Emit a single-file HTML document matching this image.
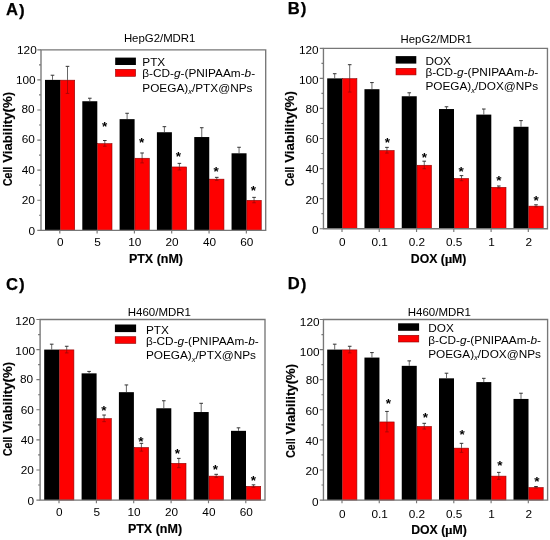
<!DOCTYPE html>
<html lang="en">
<head>
<meta charset="utf-8">
<title>Cell viability</title>
<style>
html,body{margin:0;padding:0;background:#fff;}
svg{display:block;font-family:"Liberation Sans", Arial, sans-serif;fill:#000;}
</style>
</head>
<body>
<svg width="550" height="540" viewBox="0 0 550 540">
<rect width="550" height="540" fill="#fff"/>
<g>
<text x="6" y="15.2" font-size="16.6" font-weight="bold" stroke="#000" stroke-width="0.25">A<tspan dx="1" dy="0.3" font-size="17">)</tspan></text>
<text x="123.9" y="41.9" font-size="11.4" textLength="71.5" lengthAdjust="spacingAndGlyphs">HepG2/MDR1</text>
<rect x="45" y="79.88" width="15" height="150.42" fill="#000"/>
<rect x="60.3" y="80.18" width="14.4" height="150.12" fill="#fe0000" stroke="#8c0000" stroke-width="0.6"/>
<rect x="82.3" y="101.24" width="15" height="129.06" fill="#000"/>
<rect x="97.6" y="143.66" width="14.4" height="86.64" fill="#fe0000" stroke="#8c0000" stroke-width="0.6"/>
<rect x="119.6" y="119.14" width="15" height="111.16" fill="#000"/>
<rect x="134.9" y="158.25" width="14.4" height="72.05" fill="#fe0000" stroke="#8c0000" stroke-width="0.6"/>
<rect x="156.9" y="132.23" width="15" height="98.07" fill="#000"/>
<rect x="172.2" y="166.97" width="14.4" height="63.33" fill="#fe0000" stroke="#8c0000" stroke-width="0.6"/>
<rect x="194.25" y="137.04" width="15" height="93.26" fill="#000"/>
<rect x="209.55" y="179.16" width="14.4" height="51.14" fill="#fe0000" stroke="#8c0000" stroke-width="0.6"/>
<rect x="231.55" y="153.29" width="15" height="77.01" fill="#000"/>
<rect x="246.85" y="200.37" width="14.4" height="29.93" fill="#fe0000" stroke="#8c0000" stroke-width="0.6"/>
<path d="M52.5 79.88V75.22" stroke="#404040" stroke-width="0.8" fill="none"/>
<path d="M50.7 75.22H54.3" stroke="#333" stroke-width="1" fill="none"/>
<path d="M67.5 79.88V93.42M65.7 93.42H69.3" stroke="#9c0606" stroke-width="0.8" fill="none"/>
<path d="M67.5 79.88V66.35" stroke="#404040" stroke-width="0.8" fill="none"/>
<path d="M65.7 66.35H69.3" stroke="#333" stroke-width="1" fill="none"/>
<path d="M89.8 101.24V98.23" stroke="#404040" stroke-width="0.8" fill="none"/>
<path d="M88 98.23H91.6" stroke="#333" stroke-width="1" fill="none"/>
<path d="M104.8 143.36V146.22M103 146.22H106.6" stroke="#9c0606" stroke-width="0.8" fill="none"/>
<path d="M104.8 143.36V140.5" stroke="#404040" stroke-width="0.8" fill="none"/>
<path d="M103 140.5H106.6" stroke="#333" stroke-width="1" fill="none"/>
<path d="M127.1 119.14V113.28" stroke="#404040" stroke-width="0.8" fill="none"/>
<path d="M125.3 113.28H128.9" stroke="#333" stroke-width="1" fill="none"/>
<path d="M142.1 157.95V162.91M140.3 162.91H143.9" stroke="#9c0606" stroke-width="0.8" fill="none"/>
<path d="M142.1 157.95V152.99" stroke="#404040" stroke-width="0.8" fill="none"/>
<path d="M140.3 152.99H143.9" stroke="#333" stroke-width="1" fill="none"/>
<path d="M164.4 132.23V126.66" stroke="#404040" stroke-width="0.8" fill="none"/>
<path d="M162.6 126.66H166.2" stroke="#333" stroke-width="1" fill="none"/>
<path d="M179.4 166.67V169.98M177.6 169.98H181.2" stroke="#9c0606" stroke-width="0.8" fill="none"/>
<path d="M179.4 166.67V163.36" stroke="#404040" stroke-width="0.8" fill="none"/>
<path d="M177.6 163.36H181.2" stroke="#333" stroke-width="1" fill="none"/>
<path d="M201.75 137.04V127.72" stroke="#404040" stroke-width="0.8" fill="none"/>
<path d="M199.95 127.72H203.55" stroke="#333" stroke-width="1" fill="none"/>
<path d="M216.75 178.86V180.36M214.95 180.36H218.55" stroke="#9c0606" stroke-width="0.8" fill="none"/>
<path d="M216.75 178.86V177.35" stroke="#404040" stroke-width="0.8" fill="none"/>
<path d="M214.95 177.35H218.55" stroke="#333" stroke-width="1" fill="none"/>
<path d="M239.05 153.29V147.27" stroke="#404040" stroke-width="0.8" fill="none"/>
<path d="M237.25 147.27H240.85" stroke="#333" stroke-width="1" fill="none"/>
<path d="M254.05 200.07V202.77M252.25 202.77H255.85" stroke="#9c0606" stroke-width="0.8" fill="none"/>
<path d="M254.05 200.07V197.36" stroke="#404040" stroke-width="0.8" fill="none"/>
<path d="M252.25 197.36H255.85" stroke="#333" stroke-width="1" fill="none"/>
<text x="104.7" y="130.9" font-size="13.5" font-weight="bold" text-anchor="middle">*</text>
<text x="141.7" y="146.7" font-size="13.5" font-weight="bold" text-anchor="middle">*</text>
<text x="178.4" y="160.6" font-size="13.5" font-weight="bold" text-anchor="middle">*</text>
<text x="216.2" y="176" font-size="13.5" font-weight="bold" text-anchor="middle">*</text>
<text x="253.3" y="195.1" font-size="13.5" font-weight="bold" text-anchor="middle">*</text>
<path d="M41 230.3V49.8H265.7V230.3Z" stroke="#777777" stroke-width="1.35" fill="none"/>
<path d="M41 230.3h-3.7M41 215.26h-2M41 200.22h-3.7M41 185.18h-2M41 170.13h-3.7M41 155.09h-2M41 140.05h-3.7M41 125.01h-2M41 109.97h-3.7M41 94.93h-2M41 79.88h-3.7M41 64.84h-2M41 49.8h-3.7M59.8 230.3v3.2M97.1 230.3v3.2M134.4 230.3v3.2M171.7 230.3v3.2M209.05 230.3v3.2M246.35 230.3v3.2" stroke="#777777" stroke-width="1.15" fill="none"/>
<text x="34.95" y="234.75" font-size="11.8" text-anchor="end">0</text>
<text x="34.95" y="204.05" font-size="11.8" text-anchor="end">20</text>
<text x="34.95" y="174.05" font-size="11.8" text-anchor="end">40</text>
<text x="34.95" y="142.55" font-size="11.8" text-anchor="end">60</text>
<text x="34.55" y="112.55" font-size="11.8" text-anchor="end">80</text>
<text x="35.65" y="84.35" font-size="11.8" text-anchor="end">100</text>
<text x="36.75" y="54.45" font-size="11.8" text-anchor="end">120</text>
<text x="60.2" y="246.3" font-size="11.8" text-anchor="middle">0</text>
<text x="97.5" y="246.3" font-size="11.8" text-anchor="middle">5</text>
<text x="134.8" y="246.3" font-size="11.8" text-anchor="middle">10</text>
<text x="172.1" y="246.3" font-size="11.8" text-anchor="middle">20</text>
<text x="209.45" y="246.3" font-size="11.8" text-anchor="middle">40</text>
<text x="246.75" y="246.3" font-size="11.8" text-anchor="middle">60</text>
<text x="128.9" y="262.8" font-size="12.2" font-weight="bold" textLength="54.09" lengthAdjust="spacingAndGlyphs" stroke="#000" stroke-width="0.15">PTX (nM)</text>
<text transform="translate(11.5 186.1) rotate(-90)" font-size="12" font-weight="bold" textLength="19.4" lengthAdjust="spacingAndGlyphs" stroke="#000" stroke-width="0.15">Cell</text>
<text transform="translate(11.5 162.8) rotate(-90)" font-size="12" font-weight="bold" textLength="70.89" lengthAdjust="spacingAndGlyphs" stroke="#000" stroke-width="0.15">Viability(%)</text>
<rect x="115.2" y="57.6" width="20.7" height="7.4" fill="#000"/>
<rect x="115.5" y="69.3" width="20.1" height="7" fill="#fe0000" stroke="#8c0000" stroke-width="0.6"/>
<text x="142.3" y="65.8" font-size="11.8">PTX</text>
<text x="142.3" y="77.2" font-size="11.8">β-CD-<tspan font-style="italic">g</tspan>-(PNIPAAm-<tspan font-style="italic">b</tspan>-</text>
<text x="142.3" y="91.6" font-size="11.8">POEGA)<tspan font-style="italic" font-size="7.5" dy="2.2">x</tspan><tspan dy="-2.2">/PTX@NPs</tspan></text>
</g>
<g>
<text x="287.7" y="14" font-size="16.6" font-weight="bold" stroke="#000" stroke-width="0.25">B<tspan dx="1" dy="0.3" font-size="17">)</tspan></text>
<text x="400.6" y="43" font-size="11.4" textLength="71.2" lengthAdjust="spacingAndGlyphs">HepG2/MDR1</text>
<rect x="327.2" y="78.37" width="15" height="150.33" fill="#000"/>
<rect x="342.5" y="78.67" width="14.4" height="150.03" fill="#fe0000" stroke="#8c0000" stroke-width="0.6"/>
<rect x="364.45" y="89.19" width="15" height="139.51" fill="#000"/>
<rect x="379.75" y="150.53" width="14.4" height="78.17" fill="#fe0000" stroke="#8c0000" stroke-width="0.6"/>
<rect x="401.75" y="96.26" width="15" height="132.44" fill="#000"/>
<rect x="417.05" y="165.26" width="14.4" height="63.44" fill="#fe0000" stroke="#8c0000" stroke-width="0.6"/>
<rect x="439" y="109.03" width="15" height="119.67" fill="#000"/>
<rect x="454.3" y="178.49" width="14.4" height="50.21" fill="#fe0000" stroke="#8c0000" stroke-width="0.6"/>
<rect x="476.3" y="114.6" width="15" height="114.1" fill="#000"/>
<rect x="491.6" y="187.36" width="14.4" height="41.34" fill="#fe0000" stroke="#8c0000" stroke-width="0.6"/>
<rect x="513.5" y="126.77" width="15" height="101.93" fill="#000"/>
<rect x="528.8" y="206.15" width="14.4" height="22.55" fill="#fe0000" stroke="#8c0000" stroke-width="0.6"/>
<path d="M334.7 78.37V73.71" stroke="#404040" stroke-width="0.8" fill="none"/>
<path d="M332.9 73.71H336.5" stroke="#333" stroke-width="1" fill="none"/>
<path d="M349.7 78.37V92.05M347.9 92.05H351.5" stroke="#9c0606" stroke-width="0.8" fill="none"/>
<path d="M349.7 78.37V64.69" stroke="#404040" stroke-width="0.8" fill="none"/>
<path d="M347.9 64.69H351.5" stroke="#333" stroke-width="1" fill="none"/>
<path d="M371.95 89.19V82.58" stroke="#404040" stroke-width="0.8" fill="none"/>
<path d="M370.15 82.58H373.75" stroke="#333" stroke-width="1" fill="none"/>
<path d="M386.95 150.23V153.08M385.15 153.08H388.75" stroke="#9c0606" stroke-width="0.8" fill="none"/>
<path d="M386.95 150.23V147.37" stroke="#404040" stroke-width="0.8" fill="none"/>
<path d="M385.15 147.37H388.75" stroke="#333" stroke-width="1" fill="none"/>
<path d="M409.25 96.26V92.8" stroke="#404040" stroke-width="0.8" fill="none"/>
<path d="M407.45 92.8H411.05" stroke="#333" stroke-width="1" fill="none"/>
<path d="M424.25 164.96V168.72M422.45 168.72H426.05" stroke="#9c0606" stroke-width="0.8" fill="none"/>
<path d="M424.25 164.96V161.2" stroke="#404040" stroke-width="0.8" fill="none"/>
<path d="M422.45 161.2H426.05" stroke="#333" stroke-width="1" fill="none"/>
<path d="M446.5 109.03V106.78" stroke="#404040" stroke-width="0.8" fill="none"/>
<path d="M444.7 106.78H448.3" stroke="#333" stroke-width="1" fill="none"/>
<path d="M461.5 178.19V180.74M459.7 180.74H463.3" stroke="#9c0606" stroke-width="0.8" fill="none"/>
<path d="M461.5 178.19V175.63" stroke="#404040" stroke-width="0.8" fill="none"/>
<path d="M459.7 175.63H463.3" stroke="#333" stroke-width="1" fill="none"/>
<path d="M483.8 114.6V109.03" stroke="#404040" stroke-width="0.8" fill="none"/>
<path d="M482 109.03H485.6" stroke="#333" stroke-width="1" fill="none"/>
<path d="M498.8 187.06V188.11M497 188.11H500.6" stroke="#9c0606" stroke-width="0.8" fill="none"/>
<path d="M498.8 187.06V186.01" stroke="#404040" stroke-width="0.8" fill="none"/>
<path d="M497 186.01H500.6" stroke="#333" stroke-width="1" fill="none"/>
<path d="M521 126.77V120.61" stroke="#404040" stroke-width="0.8" fill="none"/>
<path d="M519.2 120.61H522.8" stroke="#333" stroke-width="1" fill="none"/>
<path d="M536 205.85V206.9M534.2 206.9H537.8" stroke="#9c0606" stroke-width="0.8" fill="none"/>
<path d="M536 205.85V204.8" stroke="#404040" stroke-width="0.8" fill="none"/>
<path d="M534.2 204.8H537.8" stroke="#333" stroke-width="1" fill="none"/>
<text x="387.5" y="146.9" font-size="13.5" font-weight="bold" text-anchor="middle">*</text>
<text x="424.5" y="162.2" font-size="13.5" font-weight="bold" text-anchor="middle">*</text>
<text x="461.2" y="175.8" font-size="13.5" font-weight="bold" text-anchor="middle">*</text>
<text x="498.9" y="184.8" font-size="13.5" font-weight="bold" text-anchor="middle">*</text>
<text x="536.2" y="205.3" font-size="13.5" font-weight="bold" text-anchor="middle">*</text>
<path d="M323.45 228.7V48.3H547.45V228.7Z" stroke="#777777" stroke-width="1.35" fill="none"/>
<path d="M323.45 228.7h-3.7M323.45 213.67h-2M323.45 198.63h-3.7M323.45 183.6h-2M323.45 168.57h-3.7M323.45 153.53h-2M323.45 138.5h-3.7M323.45 123.47h-2M323.45 108.43h-3.7M323.45 93.4h-2M323.45 78.37h-3.7M323.45 63.33h-2M323.45 48.3h-3.7M342 228.7v3.2M379.25 228.7v3.2M416.55 228.7v3.2M453.8 228.7v3.2M491.1 228.7v3.2M528.3 228.7v3.2" stroke="#777777" stroke-width="1.15" fill="none"/>
<text x="318.65" y="234.05" font-size="11.8" text-anchor="end">0</text>
<text x="318.65" y="203.55" font-size="11.8" text-anchor="end">20</text>
<text x="318.65" y="173.45" font-size="11.8" text-anchor="end">40</text>
<text x="318.65" y="142.85" font-size="11.8" text-anchor="end">60</text>
<text x="318.65" y="112.55" font-size="11.8" text-anchor="end">80</text>
<text x="318.65" y="84.35" font-size="11.8" text-anchor="end">100</text>
<text x="318.65" y="53.85" font-size="11.8" text-anchor="end">120</text>
<text x="342.4" y="246.1" font-size="11.8" text-anchor="middle">0</text>
<text x="379.65" y="246.1" font-size="11.8" text-anchor="middle">0.1</text>
<text x="416.95" y="246.1" font-size="11.8" text-anchor="middle">0.2</text>
<text x="454.2" y="246.1" font-size="11.8" text-anchor="middle">0.5</text>
<text x="491.5" y="246.1" font-size="11.8" text-anchor="middle">1</text>
<text x="528.7" y="246.1" font-size="11.8" text-anchor="middle">2</text>
<text x="410.8" y="262.6" font-size="12.2" font-weight="bold" textLength="55.6" lengthAdjust="spacingAndGlyphs" stroke="#000" stroke-width="0.15">DOX (<tspan font-family="Liberation Serif, serif" font-size="12.5">μ</tspan>M)</text>
<text transform="translate(294.3 186.1) rotate(-90)" font-size="12" font-weight="bold" textLength="19.4" lengthAdjust="spacingAndGlyphs" stroke="#000" stroke-width="0.15">Cell</text>
<text transform="translate(294.3 162.8) rotate(-90)" font-size="12" font-weight="bold" textLength="71.69" lengthAdjust="spacingAndGlyphs" stroke="#000" stroke-width="0.15">Viability(%)</text>
<rect x="395.7" y="56.1" width="20.6" height="7.5" fill="#000"/>
<rect x="396" y="68.3" width="20" height="6.6" fill="#fe0000" stroke="#8c0000" stroke-width="0.6"/>
<text x="425.4" y="64.8" font-size="11.8">DOX</text>
<text x="425.4" y="75.9" font-size="11.8">β-CD-<tspan font-style="italic">g</tspan>-(PNIPAAm-<tspan font-style="italic">b</tspan>-</text>
<text x="425.4" y="90.3" font-size="11.8">POEGA)<tspan font-style="italic" font-size="7.5" dy="2.2">x</tspan><tspan dy="-2.2">/DOX@NPs</tspan></text>
</g>
<g>
<text x="6" y="289.5" font-size="16.6" font-weight="bold" stroke="#000" stroke-width="0.25">C<tspan dx="1" dy="0.3" font-size="17">)</tspan></text>
<text x="127.7" y="316.4" font-size="11.4" textLength="63.3" lengthAdjust="spacingAndGlyphs">H460/MDR1</text>
<rect x="44.2" y="349.59" width="15" height="150.46" fill="#000"/>
<rect x="59.5" y="349.89" width="14.4" height="150.16" fill="#fe0000" stroke="#8c0000" stroke-width="0.6"/>
<rect x="81.6" y="373.36" width="15" height="126.69" fill="#000"/>
<rect x="96.9" y="418.65" width="14.4" height="81.4" fill="#fe0000" stroke="#8c0000" stroke-width="0.6"/>
<rect x="118.9" y="392.17" width="15" height="107.88" fill="#000"/>
<rect x="134.2" y="447.54" width="14.4" height="52.51" fill="#fe0000" stroke="#8c0000" stroke-width="0.6"/>
<rect x="156.3" y="408.27" width="15" height="91.78" fill="#000"/>
<rect x="171.6" y="463.34" width="14.4" height="36.71" fill="#fe0000" stroke="#8c0000" stroke-width="0.6"/>
<rect x="193.7" y="412.03" width="15" height="88.02" fill="#000"/>
<rect x="209" y="476.13" width="14.4" height="23.92" fill="#fe0000" stroke="#8c0000" stroke-width="0.6"/>
<rect x="231" y="430.84" width="15" height="69.21" fill="#000"/>
<rect x="246.3" y="486.36" width="14.4" height="13.69" fill="#fe0000" stroke="#8c0000" stroke-width="0.6"/>
<path d="M51.7 349.59V344.18" stroke="#404040" stroke-width="0.8" fill="none"/>
<path d="M49.9 344.18H53.5" stroke="#333" stroke-width="1" fill="none"/>
<path d="M66.7 349.59V352.9M64.9 352.9H68.5" stroke="#9c0606" stroke-width="0.8" fill="none"/>
<path d="M66.7 349.59V346.28" stroke="#404040" stroke-width="0.8" fill="none"/>
<path d="M64.9 346.28H68.5" stroke="#333" stroke-width="1" fill="none"/>
<path d="M89.1 373.36V371.41" stroke="#404040" stroke-width="0.8" fill="none"/>
<path d="M87.3 371.41H90.9" stroke="#333" stroke-width="1" fill="none"/>
<path d="M104.1 418.35V421.66M102.3 421.66H105.9" stroke="#9c0606" stroke-width="0.8" fill="none"/>
<path d="M104.1 418.35V415.04" stroke="#404040" stroke-width="0.8" fill="none"/>
<path d="M102.3 415.04H105.9" stroke="#333" stroke-width="1" fill="none"/>
<path d="M126.4 392.17V384.95" stroke="#404040" stroke-width="0.8" fill="none"/>
<path d="M124.6 384.95H128.2" stroke="#333" stroke-width="1" fill="none"/>
<path d="M141.4 447.24V451.15M139.6 451.15H143.2" stroke="#9c0606" stroke-width="0.8" fill="none"/>
<path d="M141.4 447.24V443.33" stroke="#404040" stroke-width="0.8" fill="none"/>
<path d="M139.6 443.33H143.2" stroke="#333" stroke-width="1" fill="none"/>
<path d="M163.8 408.27V400.75" stroke="#404040" stroke-width="0.8" fill="none"/>
<path d="M162 400.75H165.6" stroke="#333" stroke-width="1" fill="none"/>
<path d="M178.8 463.04V467.7M177 467.7H180.6" stroke="#9c0606" stroke-width="0.8" fill="none"/>
<path d="M178.8 463.04V458.37" stroke="#404040" stroke-width="0.8" fill="none"/>
<path d="M177 458.37H180.6" stroke="#333" stroke-width="1" fill="none"/>
<path d="M201.2 412.03V403.31" stroke="#404040" stroke-width="0.8" fill="none"/>
<path d="M199.4 403.31H203" stroke="#333" stroke-width="1" fill="none"/>
<path d="M216.2 475.83V477.33M214.4 477.33H218" stroke="#9c0606" stroke-width="0.8" fill="none"/>
<path d="M216.2 475.83V474.32" stroke="#404040" stroke-width="0.8" fill="none"/>
<path d="M214.4 474.32H218" stroke="#333" stroke-width="1" fill="none"/>
<path d="M238.5 430.84V427.83" stroke="#404040" stroke-width="0.8" fill="none"/>
<path d="M236.7 427.83H240.3" stroke="#333" stroke-width="1" fill="none"/>
<path d="M253.5 486.06V487.26M251.7 487.26H255.3" stroke="#9c0606" stroke-width="0.8" fill="none"/>
<path d="M253.5 486.06V484.85" stroke="#404040" stroke-width="0.8" fill="none"/>
<path d="M251.7 484.85H255.3" stroke="#333" stroke-width="1" fill="none"/>
<text x="103.8" y="414.7" font-size="13.5" font-weight="bold" text-anchor="middle">*</text>
<text x="140.8" y="445.9" font-size="13.5" font-weight="bold" text-anchor="middle">*</text>
<text x="177.5" y="458.4" font-size="13.5" font-weight="bold" text-anchor="middle">*</text>
<text x="215.5" y="473.7" font-size="13.5" font-weight="bold" text-anchor="middle">*</text>
<text x="253.3" y="485" font-size="13.5" font-weight="bold" text-anchor="middle">*</text>
<path d="M40.1 500.05V319.5H265V500.05Z" stroke="#777777" stroke-width="1.35" fill="none"/>
<path d="M40.1 500.05h-3.7M40.1 485h-2M40.1 469.96h-3.7M40.1 454.91h-2M40.1 439.87h-3.7M40.1 424.82h-2M40.1 409.77h-3.7M40.1 394.73h-2M40.1 379.68h-3.7M40.1 364.64h-2M40.1 349.59h-3.7M40.1 334.55h-2M40.1 319.5h-3.7M59 500.05v3.2M96.4 500.05v3.2M133.7 500.05v3.2M171.1 500.05v3.2M208.5 500.05v3.2M245.8 500.05v3.2" stroke="#777777" stroke-width="1.15" fill="none"/>
<text x="33.95" y="504.65" font-size="11.8" text-anchor="end">0</text>
<text x="33.95" y="474.15" font-size="11.8" text-anchor="end">20</text>
<text x="33.95" y="443.95" font-size="11.8" text-anchor="end">40</text>
<text x="33.95" y="413.55" font-size="11.8" text-anchor="end">60</text>
<text x="33.15" y="382.55" font-size="11.8" text-anchor="end">80</text>
<text x="35.05" y="354.75" font-size="11.8" text-anchor="end">100</text>
<text x="35.05" y="324.85" font-size="11.8" text-anchor="end">120</text>
<text x="59.4" y="516.2" font-size="11.8" text-anchor="middle">0</text>
<text x="96.8" y="516.2" font-size="11.8" text-anchor="middle">5</text>
<text x="134.1" y="516.2" font-size="11.8" text-anchor="middle">10</text>
<text x="171.5" y="516.2" font-size="11.8" text-anchor="middle">20</text>
<text x="208.9" y="516.2" font-size="11.8" text-anchor="middle">40</text>
<text x="246.2" y="516.2" font-size="11.8" text-anchor="middle">60</text>
<text x="127.9" y="532.6" font-size="12.2" font-weight="bold" textLength="54.19" lengthAdjust="spacingAndGlyphs" stroke="#000" stroke-width="0.15">PTX (nM)</text>
<text transform="translate(12.4 456.1) rotate(-90)" font-size="12" font-weight="bold" textLength="19.4" lengthAdjust="spacingAndGlyphs" stroke="#000" stroke-width="0.15">Cell</text>
<text transform="translate(12.4 432.8) rotate(-90)" font-size="12" font-weight="bold" textLength="70.89" lengthAdjust="spacingAndGlyphs" stroke="#000" stroke-width="0.15">Viability(%)</text>
<rect x="114.9" y="324.5" width="21.2" height="7.6" fill="#000"/>
<rect x="115.2" y="336.7" width="20.6" height="6.7" fill="#fe0000" stroke="#8c0000" stroke-width="0.6"/>
<text x="145.9" y="333.7" font-size="11.8">PTX</text>
<text x="145.9" y="345.3" font-size="11.8">β-CD-<tspan font-style="italic">g</tspan>-(PNIPAAm-<tspan font-style="italic">b</tspan>-</text>
<text x="145.9" y="359.4" font-size="11.8">POEGA)<tspan font-style="italic" font-size="7.5" dy="2.2">x</tspan><tspan dy="-2.2">/PTX@NPs</tspan></text>
</g>
<g>
<text x="287.7" y="289.4" font-size="16.6" font-weight="bold" stroke="#000" stroke-width="0.25">D<tspan dx="1" dy="0.3" font-size="17">)</tspan></text>
<text x="407.7" y="316.4" font-size="11.4" textLength="63.3" lengthAdjust="spacingAndGlyphs">H460/MDR1</text>
<rect x="327.2" y="349.59" width="15" height="150.46" fill="#000"/>
<rect x="342.5" y="349.89" width="14.4" height="150.16" fill="#fe0000" stroke="#8c0000" stroke-width="0.6"/>
<rect x="364.45" y="357.57" width="15" height="142.48" fill="#000"/>
<rect x="379.75" y="421.96" width="14.4" height="78.09" fill="#fe0000" stroke="#8c0000" stroke-width="0.6"/>
<rect x="401.75" y="365.84" width="15" height="134.21" fill="#000"/>
<rect x="417.05" y="426.47" width="14.4" height="73.58" fill="#fe0000" stroke="#8c0000" stroke-width="0.6"/>
<rect x="439" y="378.33" width="15" height="121.72" fill="#000"/>
<rect x="454.3" y="448.14" width="14.4" height="51.91" fill="#fe0000" stroke="#8c0000" stroke-width="0.6"/>
<rect x="476.3" y="382.09" width="15" height="117.96" fill="#000"/>
<rect x="491.6" y="476.13" width="14.4" height="23.92" fill="#fe0000" stroke="#8c0000" stroke-width="0.6"/>
<rect x="513.5" y="398.94" width="15" height="101.11" fill="#000"/>
<rect x="528.8" y="487.56" width="14.4" height="12.49" fill="#fe0000" stroke="#8c0000" stroke-width="0.6"/>
<path d="M334.7 349.59V344.18" stroke="#404040" stroke-width="0.8" fill="none"/>
<path d="M332.9 344.18H336.5" stroke="#333" stroke-width="1" fill="none"/>
<path d="M349.7 349.59V352.9M347.9 352.9H351.5" stroke="#9c0606" stroke-width="0.8" fill="none"/>
<path d="M349.7 349.59V346.28" stroke="#404040" stroke-width="0.8" fill="none"/>
<path d="M347.9 346.28H351.5" stroke="#333" stroke-width="1" fill="none"/>
<path d="M371.95 357.57V352.6" stroke="#404040" stroke-width="0.8" fill="none"/>
<path d="M370.15 352.6H373.75" stroke="#333" stroke-width="1" fill="none"/>
<path d="M386.95 421.66V431.89M385.15 431.89H388.75" stroke="#9c0606" stroke-width="0.8" fill="none"/>
<path d="M386.95 421.66V411.43" stroke="#404040" stroke-width="0.8" fill="none"/>
<path d="M385.15 411.43H388.75" stroke="#333" stroke-width="1" fill="none"/>
<path d="M409.25 365.84V360.88" stroke="#404040" stroke-width="0.8" fill="none"/>
<path d="M407.45 360.88H411.05" stroke="#333" stroke-width="1" fill="none"/>
<path d="M424.25 426.17V429.03M422.45 429.03H426.05" stroke="#9c0606" stroke-width="0.8" fill="none"/>
<path d="M424.25 426.17V423.32" stroke="#404040" stroke-width="0.8" fill="none"/>
<path d="M422.45 423.32H426.05" stroke="#333" stroke-width="1" fill="none"/>
<path d="M446.5 378.33V373.21" stroke="#404040" stroke-width="0.8" fill="none"/>
<path d="M444.7 373.21H448.3" stroke="#333" stroke-width="1" fill="none"/>
<path d="M461.5 447.84V452.35M459.7 452.35H463.3" stroke="#9c0606" stroke-width="0.8" fill="none"/>
<path d="M461.5 447.84V443.33" stroke="#404040" stroke-width="0.8" fill="none"/>
<path d="M459.7 443.33H463.3" stroke="#333" stroke-width="1" fill="none"/>
<path d="M483.8 382.09V378.33" stroke="#404040" stroke-width="0.8" fill="none"/>
<path d="M482 378.33H485.6" stroke="#333" stroke-width="1" fill="none"/>
<path d="M498.8 475.83V479.29M497 479.29H500.6" stroke="#9c0606" stroke-width="0.8" fill="none"/>
<path d="M498.8 475.83V472.37" stroke="#404040" stroke-width="0.8" fill="none"/>
<path d="M497 472.37H500.6" stroke="#333" stroke-width="1" fill="none"/>
<path d="M521 398.94V393.22" stroke="#404040" stroke-width="0.8" fill="none"/>
<path d="M519.2 393.22H522.8" stroke="#333" stroke-width="1" fill="none"/>
<path d="M536 487.26V488.01M534.2 488.01H537.8" stroke="#9c0606" stroke-width="0.8" fill="none"/>
<path d="M536 487.26V486.51" stroke="#404040" stroke-width="0.8" fill="none"/>
<path d="M534.2 486.51H537.8" stroke="#333" stroke-width="1" fill="none"/>
<text x="388.3" y="407.9" font-size="13.5" font-weight="bold" text-anchor="middle">*</text>
<text x="425.3" y="421.7" font-size="13.5" font-weight="bold" text-anchor="middle">*</text>
<text x="462.1" y="439.2" font-size="13.5" font-weight="bold" text-anchor="middle">*</text>
<text x="499.8" y="469.8" font-size="13.5" font-weight="bold" text-anchor="middle">*</text>
<text x="536.8" y="485.6" font-size="13.5" font-weight="bold" text-anchor="middle">*</text>
<path d="M323.45 500.05V319.5H547.6V500.05Z" stroke="#777777" stroke-width="1.35" fill="none"/>
<path d="M323.45 500.05h-3.7M323.45 485h-2M323.45 469.96h-3.7M323.45 454.91h-2M323.45 439.87h-3.7M323.45 424.82h-2M323.45 409.77h-3.7M323.45 394.73h-2M323.45 379.68h-3.7M323.45 364.64h-2M323.45 349.59h-3.7M323.45 334.55h-2M323.45 319.5h-3.7M342 500.05v3.2M379.25 500.05v3.2M416.55 500.05v3.2M453.8 500.05v3.2M491.1 500.05v3.2M528.3 500.05v3.2" stroke="#777777" stroke-width="1.15" fill="none"/>
<text x="318.65" y="505.65" font-size="11.8" text-anchor="end">0</text>
<text x="318.65" y="475.25" font-size="11.8" text-anchor="end">20</text>
<text x="318.65" y="445.05" font-size="11.8" text-anchor="end">40</text>
<text x="318.65" y="415.05" font-size="11.8" text-anchor="end">60</text>
<text x="318.85" y="384.25" font-size="11.8" text-anchor="end">80</text>
<text x="319.55" y="355.95" font-size="11.8" text-anchor="end">100</text>
<text x="319.55" y="326.25" font-size="11.8" text-anchor="end">120</text>
<text x="342.4" y="517.6" font-size="11.8" text-anchor="middle">0</text>
<text x="379.65" y="517.6" font-size="11.8" text-anchor="middle">0.1</text>
<text x="416.95" y="517.6" font-size="11.8" text-anchor="middle">0.2</text>
<text x="454.2" y="517.6" font-size="11.8" text-anchor="middle">0.5</text>
<text x="491.5" y="517.6" font-size="11.8" text-anchor="middle">1</text>
<text x="528.7" y="517.6" font-size="11.8" text-anchor="middle">2</text>
<text x="411.2" y="533.9" font-size="12.2" font-weight="bold" textLength="55.6" lengthAdjust="spacingAndGlyphs" stroke="#000" stroke-width="0.15">DOX (<tspan font-family="Liberation Serif, serif" font-size="12.5">μ</tspan>M)</text>
<text transform="translate(295.3 457.8) rotate(-90)" font-size="12" font-weight="bold" textLength="19.4" lengthAdjust="spacingAndGlyphs" stroke="#000" stroke-width="0.15">Cell</text>
<text transform="translate(295.3 434.5) rotate(-90)" font-size="12" font-weight="bold" textLength="70.59" lengthAdjust="spacingAndGlyphs" stroke="#000" stroke-width="0.15">Viability(%)</text>
<rect x="398.1" y="323.3" width="21" height="7.5" fill="#000"/>
<rect x="398.4" y="335.3" width="20.4" height="6.7" fill="#fe0000" stroke="#8c0000" stroke-width="0.6"/>
<text x="428.2" y="331.6" font-size="11.8">DOX</text>
<text x="428.2" y="343.6" font-size="11.8">β-CD-<tspan font-style="italic">g</tspan>-(PNIPAAm-<tspan font-style="italic">b</tspan>-</text>
<text x="428.2" y="357.5" font-size="11.8">POEGA)<tspan font-style="italic" font-size="7.5" dy="2.2">x</tspan><tspan dy="-2.2">/DOX@NPs</tspan></text>
</g>
</svg>
</body>
</html>
